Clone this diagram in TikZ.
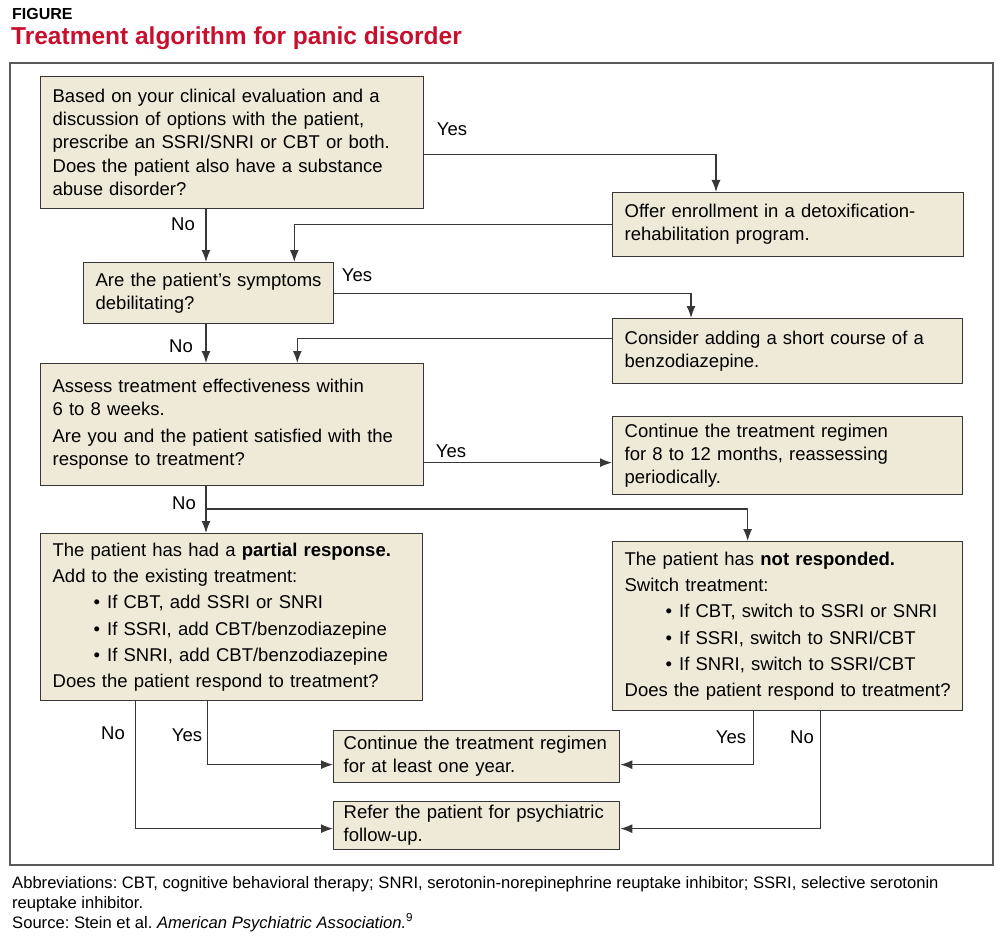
\documentclass[tikz,border=0pt]{standalone}
\usepackage{fontspec}
\setmainfont{Liberation Sans}
\usetikzlibrary{arrows.meta,calc}
\definecolor{boxfill}{RGB}{239,234,216}
\definecolor{boxline}{RGB}{55,55,55}
\definecolor{frameline}{RGB}{90,90,90}
\definecolor{titlered}{RGB}{200,16,46}
\tikzset{
  stepbox/.style={
    rectangle,
    draw=boxline, line width=1.3pt,
    fill=boxfill,
    anchor=north west,
    inner xsep=12pt, inner ysep=3pt,
    align=left,
    font=\fontsize{18.5}{23}\selectfont},
  listbox/.style={stepbox, font=\fontsize{18.5}{26.3}\selectfont},
  answer/.style=
      {font=\fontsize{18.5}{22}\selectfont, inner sep=0pt},
  flow/.style={draw=boxline, line width=1.3pt},
}
\tikzset{>={Latex[length=12pt,width=9pt]}}
\newcommand{\bulletitem}[1]{\hspace*{41pt}\textbullet\hspace{7pt}#1}

\begin{document}
\frenchspacing
\begin{tikzpicture}[x=1pt,y=-1pt]
\useasboundingbox (0,0) rectangle (1000,941);

\node[anchor=west, font=\bfseries\fontsize{16}{18}\selectfont, inner sep=0pt] at (12,14) (figlabel) {FIGURE};
\node[anchor=west, font=\bfseries\fontsize{24.5}{28}\selectfont, text=titlered, inner sep=0pt] at (11,38) (figtitle) {Treatment algorithm for panic disorder};
\draw[frameline, line width=1.3pt] (10,63) rectangle (993,865);

\node[stepbox, text width=359pt, minimum height=132pt] at (40,76) (start)
  {Based on your clinical evaluation and a\\discussion of options with the patient,\\prescribe an SSRI/SNRI or CBT or both.\\[1pt]Does the patient also have a substance\\abuse disorder?};
\node[stepbox, text width=327pt, minimum height=64pt] at (612,192) (detox)
  {Offer enrollment in a detoxification-\\rehabilitation program.};
\node[stepbox, text width=226pt, minimum height=61pt] at (83,262) (debil)
  {Are the patient’s symptoms\\debilitating?};
\node[stepbox, text width=326pt, minimum height=65pt] at (612,318) (benzo)
  {Consider adding a short course of a\\benzodiazepine.};
\node[stepbox, text width=359pt, minimum height=122pt] at (40,363) (assess)
  {Assess treatment effectiveness within\\6 to 8 weeks.\\[4pt]Are you and the patient satisfied with the\\response to treatment?};
\node[stepbox, text width=326pt, minimum height=78pt] at (612,416) (keep)
  {Continue the treatment regimen\\for 8 to 12 months, reassessing\\periodically.};
\node[listbox, text width=358pt, minimum height=167pt] at (40,533) (partial)
  {The patient has had a \textbf{partial response.}\\Add to the existing treatment:\\
   \bulletitem{If CBT, add SSRI or SNRI}\\
   \bulletitem{If SSRI, add CBT/benzodiazepine}\\
   \bulletitem{If SNRI, add CBT/benzodiazepine}\\
   Does the patient respond to treatment?};
\node[listbox, text width=326pt, minimum height=169pt] at (612,541) (noresp)
  {The patient has \textbf{not responded.}\\Switch treatment:\\
   \bulletitem{If CBT, switch to SSRI or SNRI}\\
   \bulletitem{If SSRI, switch to SNRI/CBT}\\
   \bulletitem{If SNRI, switch to SSRI/CBT}\\
   Does the patient respond to treatment?};
\node[stepbox, inner xsep=10pt, text width=266pt, minimum height=52pt] at (333,730) (oneyear)
  {Continue the treatment regimen\\for at least one year.};
\node[stepbox, inner xsep=10pt, text width=266pt, minimum height=48pt] at (333,801) (refer)
  {Refer the patient for psychiatric\\follow-up.};

% answers
\node[answer] at (452,129) (yesA) {Yes};
\node[answer] at (183,224) (noA) {No};
\node[answer] at (357,275) (yesB) {Yes};
\node[answer] at (181,346) (noB) {No};
\node[answer] at (451,451) (yesC) {Yes};
\node[answer] at (184,503) (noC) {No};
\node[answer] at (187,735) (yesD) {Yes};
\node[answer] at (113,733) (noD) {No};
\node[answer] at (731,737) (yesE) {Yes};
\node[answer] at (802,737) (noE) {No};

\coordinate (split) at (206,509);

\draw[flow,->] ([yshift=-12pt]start.east) -| ([xshift=104pt]detox.north west);
\draw[flow,->] (start.south -| split) -- (debil.north -| split);
\draw[flow,->] (detox.west) -| ([xshift=-40pt]debil.north east);

\draw[flow,->] (debil.east) -| ([xshift=79pt]benzo.north west);
\draw[flow,->] (debil.south -| split) -- (assess.north -| split);
\draw[flow,->] ([yshift=13pt]benzo.west) -| ([xshift=-127pt]assess.north east);

\draw[flow,->] ([yshift=-38pt]assess.east) coordinate (yesCstart) -- (yesCstart -| keep.west);
\draw[flow,->] (assess.south -| split) -- (partial.north -| split);
\draw[flow,->] (split) -| ([xshift=-40pt]noresp.north);

\draw[flow,->] ([xshift=-24pt]partial.south) |- ([yshift=-8pt]oneyear.west);
\draw[flow,->] ([xshift=-96pt]partial.south) |- ([yshift=-3pt]refer.west);
\draw[flow,->] ([xshift=-34pt]noresp.south) |- ([yshift=-8pt]oneyear.east);
\draw[flow,->] ([xshift=33pt]noresp.south) |- ([yshift=-3pt]refer.east);

\node[anchor=north west, align=left, inner sep=0pt, font=\fontsize{16.6}{20}\selectfont] at (12,876) (notes)
  {Abbreviations: CBT, cognitive behavioral therapy; SNRI, serotonin-norepinephrine reuptake inhibitor; SSRI, selective serotonin\\
   reuptake inhibitor.\\
   Source: Stein et al. \textit{American Psychiatric Association.}\textsuperscript{9}};
\end{tikzpicture}
\end{document}
